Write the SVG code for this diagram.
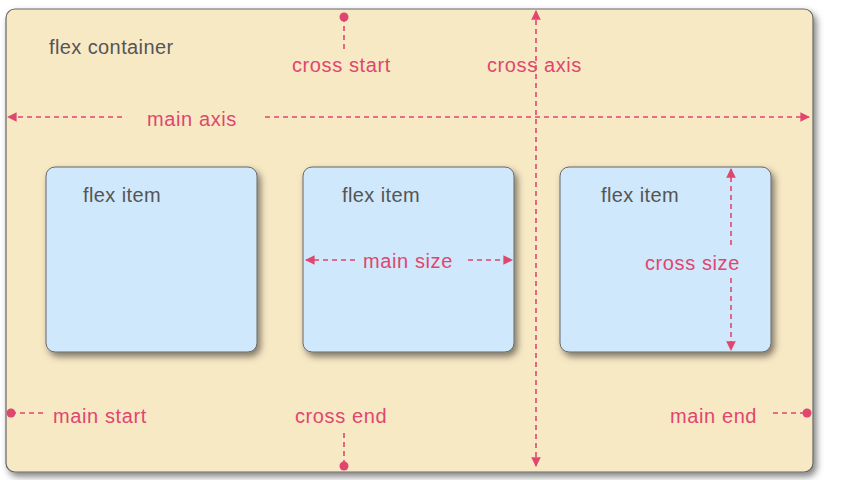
<svg xmlns="http://www.w3.org/2000/svg" width="843" height="480" viewBox="0 0 843 480">
<defs>
<filter id="sh" x="-10%" y="-10%" width="130%" height="130%"><feDropShadow dx="3" dy="4" stdDeviation="3.5" flood-color="#000" flood-opacity="0.5"/></filter>
<marker id="ah" viewBox="0 0 10 10" refX="9" refY="5" markerWidth="6" markerHeight="6" orient="auto-start-reverse"><path d="M0,0L10,5L0,10z" fill="#e0466e"/></marker>
</defs>
<style>
.ln{stroke:#e0466e;stroke-width:1.6;stroke-dasharray:5,4;fill:none}
.lb{font-family:"Liberation Sans",Arial,sans-serif;font-size:20px;letter-spacing:0.6px;fill:#e0466e}
.tx{font-family:"Liberation Sans",Arial,sans-serif;font-size:20px;letter-spacing:0.4px;fill:#555}
.item{fill:#cfe8fb;stroke:#666;stroke-width:1;filter:url(#sh)}
.dot{fill:#e0466e}
</style>
<g id="container"><rect x="6" y="9" width="807" height="463" rx="9" fill="#f8e9c5" stroke="#666" stroke-width="1.2" filter="url(#sh)"/><text class="tx" x="49" y="54">flex container</text></g>
<g id="item1"><rect class="item" x="46" y="167" width="211" height="185" rx="9"/><text class="tx" x="83" y="202">flex item</text></g>
<g id="item2"><rect class="item" x="303" y="167" width="211" height="185" rx="9"/><text class="tx" x="342" y="202">flex item</text></g>
<g id="item3"><rect class="item" x="560" y="167" width="211" height="185" rx="9"/><text class="tx" x="601" y="202">flex item</text></g>
<g id="connectors">
<line class="ln" x1="122" y1="117" x2="8" y2="117" marker-end="url(#ah)"/>
<line class="ln" x1="265" y1="117" x2="809" y2="117" marker-end="url(#ah)"/>
<line class="ln" x1="536" y1="466" x2="536" y2="11" marker-start="url(#ah)" marker-end="url(#ah)"/>
<line class="ln" x1="344" y1="17" x2="344" y2="50"/>
<circle class="dot" cx="344" cy="17" r="4.5"/>
<line class="ln" x1="344" y1="433" x2="344" y2="466"/>
<circle class="dot" cx="344" cy="466" r="4.5"/>
<line class="ln" x1="11" y1="413" x2="45" y2="413"/>
<circle class="dot" cx="11" cy="413" r="4.5"/>
<line class="ln" x1="773" y1="413" x2="807" y2="413"/>
<circle class="dot" cx="807" cy="413" r="4.5"/>
<line class="ln" x1="355" y1="260" x2="306" y2="260" marker-end="url(#ah)"/>
<line class="ln" x1="468" y1="260" x2="512" y2="260" marker-end="url(#ah)"/>
<line class="ln" x1="731" y1="245" x2="731" y2="169" marker-end="url(#ah)"/>
<line class="ln" x1="731" y1="278" x2="731" y2="350" marker-end="url(#ah)"/>
</g>
<g id="labels">
<text class="lb" x="292" y="72">cross start</text>
<text class="lb" x="487" y="72">cross axis</text>
<text class="lb" x="147" y="126">main axis</text>
<text class="lb" x="363" y="268">main size</text>
<text class="lb" x="645" y="270">cross size</text>
<text class="lb" x="53" y="423">main start</text>
<text class="lb" x="295" y="423">cross end</text>
<text class="lb" x="670" y="423">main end</text>
</g>
</svg>
